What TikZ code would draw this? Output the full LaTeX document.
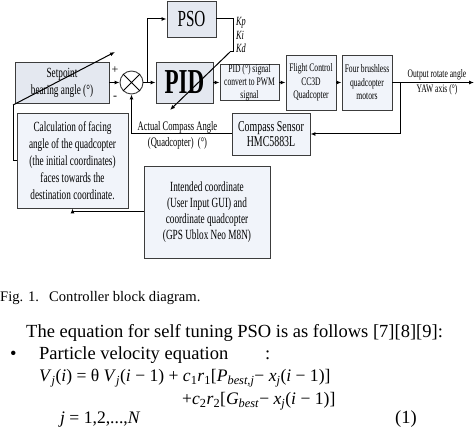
\documentclass[tikz,border=0pt]{standalone}
\usepackage{fontspec}
\setmainfont{Liberation Serif}
\newfontfamily\cond[FakeStretch=0.66]{Liberation Serif}
\usetikzlibrary{arrows.meta}
\definecolor{bordc}{RGB}{60,60,60}
\definecolor{fillA}{RGB}{228,232,240}
\definecolor{fillL}{RGB}{241,244,250}
\newcommand\emv[1]{\textit{#1}}
\newcommand\sbx[1]{\textsubscript{#1}}
\begin{document}
\begin{tikzpicture}[x=1pt,y=-1pt,
  blk/.style={draw=bordc,line width=0.9pt,inner sep=0pt,align=center,text=black},
  shadeA/.style={fill=fillA},
  shadeL/.style={fill=fillL},
  conn/.style={draw=black,line width=1pt},
  arr/.style={conn,-{Latex[length=5pt,width=4pt]}},
  lbl/.style={inner sep=0pt,align=center},
  txt/.style={inner sep=0pt,anchor=base west}]
\useasboundingbox (0,0) rectangle (474,427);
% blocks
\node[blk,shadeA,minimum width=49pt,minimum height=36pt,font=\cond\fontsize{23}{26}\selectfont] (pso) at (191.5,19) {PSO};
\node[blk,shadeA,minimum width=94pt,minimum height=41pt,font=\cond\fontsize{14}{17}\selectfont] (set) at (62,82.5) {Setpoint\\bearing angle (°)};
\node[draw=bordc,line width=0.9pt,circle,minimum size=23pt,inner sep=0pt,fill=white] (sum) at (131.5,82.5) {};
\draw[conn] (sum.north east) -- (sum.south west) (sum.north west) -- (sum.south east);
\node[blk,shadeA,minimum width=57pt,minimum height=41pt,font=\cond\bfseries\fontsize{35}{38}\selectfont] (pid) at (184.5,82.5) {PID};
\node[blk,shadeL,minimum width=59pt,minimum height=36pt,font=\cond\fontsize{11.5}{13}\selectfont] (pwm) at (249.5,82.5) {PID (°) signal\\convert to PWM\\signal};
\node[blk,shadeL,minimum width=50pt,minimum height=55pt,font=\cond\fontsize{11.5}{13.5}\selectfont] (fc) at (311,82.5) {Flight Control\\CC3D\\Quadcopter};
\node[blk,shadeL,minimum width=50pt,minimum height=55pt,font=\cond\fontsize{11.5}{13.5}\selectfont] (mot) at (367,82.5) {Four brushless\\quadcopter\\motors};
\node[blk,shadeL,minimum width=78pt,minimum height=42pt,font=\cond\fontsize{15}{15}\selectfont] (cmp) at (271,134) {Compass Sensor\\HMC5883L};
\node[blk,shadeL,minimum width=111pt,minimum height=95pt,font=\cond\fontsize{14}{17}\selectfont] (calc) at (72.5,160.5) {Calculation of facing\\angle of the quadcopter\\(the initial coordinates)\\faces towards the\\destination coordinate.};
\node[blk,shadeL,minimum width=126pt,minimum height=92pt,font=\cond\fontsize{14}{16}\selectfont] (intd) at (207,212) {Intended coordinate\\(User Input GUI) and\\coordinate quadcopter\\(GPS Ublox Neo M8N)};
% coordinates
\coordinate (br) at (147,82.5);
\coordinate (out) at (474,82.5);
\coordinate (tap) at (400,82.5);
\coordinate (kA) at (233,19);
\coordinate (kB) at (233,52);
\coordinate (kC) at (230,52);
\coordinate (kE) at (170,110);
\coordinate (sA) at (13,160.5);
\coordinate (sB) at (13,105);
\coordinate (sE) at (115,52);
% connectors
\draw[arr] (set.east) -- (sum.west);
\draw[arr] (sum.east) -- (pid.west);
\draw[arr] (br) |- (pso.west);
\draw[arr] (pid.east) -- (pwm.west);
\draw[arr] (pwm.east) -- (fc.west);
\draw[arr] (fc.east) -- (mot.west);
\draw[arr] (mot.east) -- (out);
\draw[arr] (tap) |- (cmp.east);
\draw[arr] (cmp.west) -| (sum.south);
\draw[arr] (intd.west) -| (calc.south);
\draw[conn] (pso.east) -- (kA) -- (kB) -- (kC);
\draw[arr] (kC) -- (kE);
\draw[conn] (calc.west) -- (sA) -- (sB);
\draw[arr] (sB) -- (sE);
% labels
\node[lbl,font=\cond\itshape\fontsize{12.5}{12}\selectfont,anchor=west] (kp) at (236,23) {Kp};
\node[lbl,font=\cond\itshape\fontsize{12.5}{12}\selectfont,anchor=west] (ki) at (236,35.5) {Ki};
\node[lbl,font=\cond\itshape\fontsize{12.5}{12}\selectfont,anchor=west] (kd) at (236,48) {Kd};
\node[lbl,font=\fontsize{12}{12}\selectfont] (plus) at (115,70) {+};
\node[lbl,font=\fontsize{12}{12}\selectfont] (minus) at (115,98) {-};
\node[lbl,font=\cond\fontsize{11.5}{12}\selectfont] (o1) at (437,75) {Output rotate angle};
\node[lbl,font=\cond\fontsize{11.5}{12}\selectfont] (o2) at (437,90) {YAW axis (°)};
\node[lbl,font=\cond\fontsize{13}{13}\selectfont] (a1) at (177.5,127) {Actual Compass Angle};
\node[lbl,font=\cond\fontsize{13}{13}\selectfont] (a2) at (177.5,143) {(Quadcopter) \ (°)};
% caption and text
\node[txt,font=\fontsize{14.6}{16}\selectfont] (fig) at (0,302) {Fig. 1.};
\node[txt,font=\fontsize{14.6}{16}\selectfont] (figt) at (49,302) {Controller block diagram.};
\node[txt,font=\fontsize{18.5}{20}\selectfont] (eq0) at (26,338) {The equation for self tuning PSO is as follows [7][8][9]:};
\node[txt,font=\fontsize{18.5}{20}\selectfont] (bul) at (10,360) {•};
\node[txt,font=\fontsize{18.5}{20}\selectfont] (pve) at (39,360) {Particle velocity equation};
\node[txt,font=\fontsize{18.5}{20}\selectfont] (col) at (265,360) {:};
\node[txt,font=\fontsize{17.6}{20}\selectfont] (eq1) at (39,382) {\emv{V}\sbx{\emv{j}}(\emv{i}) = θ \emv{V}\sbx{\emv{j}}(\emv{i} − 1) + \emv{c}\sbx{1}\emv{r}\sbx{1}[\emv{P}\sbx{\emv{best,j}}− \emv{x}\sbx{\emv{j}}(\emv{i} − 1)]};
\node[txt,font=\fontsize{17.6}{20}\selectfont] (eq2) at (182,405) {+\emv{c}\sbx{2}\emv{r}\sbx{2}[\emv{G}\sbx{\emv{best}}− \emv{x}\sbx{\emv{j}}(\emv{i} − 1)]};
\node[txt,font=\fontsize{17.6}{20}\selectfont] (eq3) at (60,424) {\emv{j} = 1,2,...,\emv{N}};
\node[txt,font=\fontsize{18.5}{20}\selectfont] (eqn) at (395,424) {(1)};
\end{tikzpicture}
\end{document}
